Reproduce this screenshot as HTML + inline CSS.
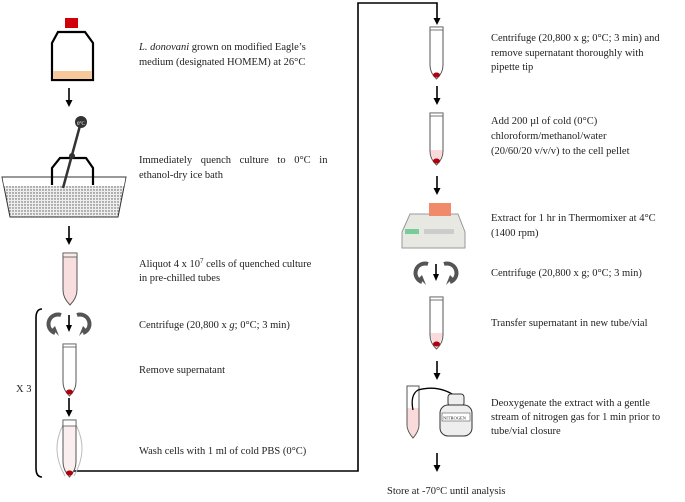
<!DOCTYPE html>
<html><head><meta charset="utf-8"><style>
html,body{margin:0;padding:0;background:#fff;}
svg{display:block;}
text{font-family:"Liberation Serif",serif;font-size:10.5px;fill:#222;}
</style></head><body>
<svg width="685" height="502" viewBox="0 0 685 502" xmlns="http://www.w3.org/2000/svg">
<defs>
<pattern id="dots" width="3" height="3" patternUnits="userSpaceOnUse"><rect width="3" height="3" fill="#eee"/><circle cx="1" cy="1" r="0.7" fill="#555"/></pattern>
<g id="arr"><line x1="0" y1="0" x2="0" y2="14" stroke="#000" stroke-width="1.6"/><path d="M-3.5,12 L3.5,12 L0,19 Z" fill="#000"/></g>
<g id="tube"><path d="M0,0 L13,0 L13,38 Q13,46 6.5,52 Q0,46 0,38 Z" fill="#fff" stroke="#555" stroke-width="1"/><rect x="0" y="0" width="13" height="3" fill="#fff" stroke="#555" stroke-width="0.8"/></g>
<g id="cent"><path d="M10,2 A9,9 0 0 0 4,20" fill="none" stroke="#555" stroke-width="4"/><path d="M1,16 L8,23 L4,13Z" fill="#555"/><path d="M26,2 A9,9 0 0 1 32,20" fill="none" stroke="#555" stroke-width="4"/><path d="M35,16 L28,23 L32,13Z" fill="#555"/><line x1="18" y1="2" x2="18" y2="14" stroke="#000" stroke-width="1.6"/><path d="M15,12 L21,12 L18,19Z" fill="#000"/></g>
</defs>

<polyline points="69,458 69,471 358,471 358,3 437,3 437,20" fill="none" stroke="#000" stroke-width="1.6"/>
<path d="M433.5,18 L440.5,18 L437,25 Z" fill="#000"/>

<rect x="65" y="18" width="13" height="10" fill="#d0000b"/>
<path d="M58,32 L85,32 L93,43 L93,80 L52,80 L52,43 Z" fill="#fff" stroke="#000" stroke-width="2.2"/>
<rect x="53" y="71" width="39" height="8" fill="#f7c99a"/>
<use href="#arr" x="69" y="88"/>

<path d="M2,177 L126,177 L118,217 L10,217 Z" fill="url(#dots)" stroke="#333" stroke-width="1"/>
<path d="M2.5,177.5 L125.5,177.5 L124,186 L4,186 Z" fill="#fff"/>
<path d="M52,185 L52,168 L60,158 L86,158 L93,168 L93,185" fill="none" stroke="#000" stroke-width="2.2"/>
<line x1="81" y1="122" x2="63" y2="188" stroke="#333" stroke-width="2.5"/>
<circle cx="72" cy="156" r="3" fill="#333"/>
<circle cx="81" cy="122" r="6" fill="#333"/>
<text x="77" y="125" style="font-size:5px;fill:#fff">0°C</text>
<use href="#arr" x="69" y="226"/>

<path d="M63,253 L77,253 L77,290 Q77,298 70,305 Q63,298 63,290 Z" fill="#f8dede" stroke="#555"/>
<rect x="63" y="253" width="14" height="4" fill="#fbeaea" stroke="#555" stroke-width="0.8"/>

<path d="M42,309 Q36,309 36,318 L36,468 Q36,477 42,477" fill="none" stroke="#000" stroke-width="1.6"/>
<text x="16" y="392">X 3</text>

<use href="#cent" x="51" y="313"/>
<use href="#tube" x="63" y="344"/>
<ellipse cx="69.5" cy="392" rx="3.5" ry="2.5" fill="#b00010"/>
<use href="#arr" x="69" y="398"/>
<path d="M63,425 Q50,450 65,476 M76,425 Q89,450 74,476" fill="none" stroke="#bbb" stroke-width="1"/>
<path d="M63,420 L76,420 L76,462 Q76,470 69.5,477 Q63,470 63,462 Z" fill="#fbeeee" stroke="#555"/>
<rect x="63" y="420" width="13" height="6" fill="#fff" stroke="#555" stroke-width="0.8"/>
<ellipse cx="69.5" cy="473" rx="3.5" ry="2.5" fill="#b00010"/>

<text x="139" y="50"><tspan font-style="italic">L. donovani</tspan> grown on modified Eagle’s</text>
<text x="139" y="65">medium (designated HOMEM) at 26°C</text>
<text x="139" y="163" style="word-spacing:6px">Immediately quench culture to 0°C in</text>
<text x="139" y="178">ethanol-dry ice bath</text>
<text x="139" y="267">Aliquot 4 x 10<tspan dy="-4" style="font-size:7px">7</tspan><tspan dy="4"> cells of quenched culture</tspan></text>
<text x="139" y="281">in pre-chilled tubes</text>
<text x="139" y="328">Centrifuge (20,800 x <tspan font-style="italic">g</tspan>; 0°C; 3 min)</text>
<text x="139" y="373">Remove supernatant</text>
<text x="139" y="454">Wash cells with 1 ml of cold PBS (0°C)</text>

<use href="#tube" x="430" y="27"/>
<ellipse cx="436.5" cy="75" rx="3.5" ry="2.5" fill="#b00010"/>
<use href="#arr" x="437" y="86"/>
<use href="#tube" x="430" y="113"/>
<path d="M430.5,150 L442.5,150 Q442,158 436.5,164 Q431,158 430.5,150Z" fill="#fadada"/>
<ellipse cx="436.5" cy="161" rx="3.5" ry="2.5" fill="#b00010"/>
<use href="#arr" x="437" y="176"/>

<path d="M402,232 L410,214 L458,214 L465,232 L465,248 L402,248 Z" fill="#e8e8e2" stroke="#999"/>
<rect x="429" y="203" width="22" height="13" fill="#f08a6a"/>
<rect x="405" y="229" width="14" height="5" fill="#7c9"/>
<rect x="424" y="229" width="30" height="5" fill="#ccc"/>

<use href="#cent" x="418" y="262"/>
<use href="#tube" x="430" y="297"/>
<path d="M430.5,333 L442.5,333 Q442,341 436.5,348 Q431,341 430.5,333Z" fill="#fadada"/>
<ellipse cx="436.5" cy="344" rx="3.5" ry="2.5" fill="#b00010"/>
<use href="#arr" x="437" y="361"/>

<path d="M407,386 L419,386 L419,425 Q419,431 413,438 Q407,431 407,425 Z" fill="#fff" stroke="#555"/>
<path d="M407.5,408 L418.5,408 L418.5,425 Q418,431 413,437 Q408,431 407.5,425Z" fill="#fadada"/>
<path d="M413,410 Q410,395 418,390 Q440,384 458,398" fill="none" stroke="#000" stroke-width="1.3"/>
<rect x="448" y="394" width="16" height="12" rx="3" fill="#eee" stroke="#333"/>
<rect x="440" y="405" width="32" height="31" rx="8" fill="#eee" stroke="#333"/>
<rect x="442" y="413" width="28" height="8" fill="#fff" stroke="#555" stroke-width="0.6"/>
<text x="443" y="419.5" style="font-size:4.5px">NITROGEN</text>
<use href="#arr" x="437" y="453"/>

<text x="491" y="41">Centrifuge (20,800 x g; 0°C; 3 min) and</text>
<text x="491" y="56">remove supernatant thoroughly with</text>
<text x="491" y="70">pipette tip</text>
<text x="491" y="124">Add 200 µl of cold (0°C)</text>
<text x="491" y="139">chloroform/methanol/water</text>
<text x="491" y="154">(20/60/20 v/v/v) to the cell pellet</text>
<text x="491" y="221">Extract for 1 hr in Thermomixer at 4°C</text>
<text x="491" y="236">(1400 rpm)</text>
<text x="491" y="276">Centrifuge (20,800 x g; 0°C; 3 min)</text>
<text x="491" y="326">Transfer supernatant in new tube/vial</text>
<text x="491" y="406">Deoxygenate the extract with a gentle</text>
<text x="491" y="420">stream of nitrogen gas for 1 min prior to</text>
<text x="491" y="434">tube/vial closure</text>
<text x="387" y="494">Store at -70°C until analysis</text>
</svg>
</body></html>
